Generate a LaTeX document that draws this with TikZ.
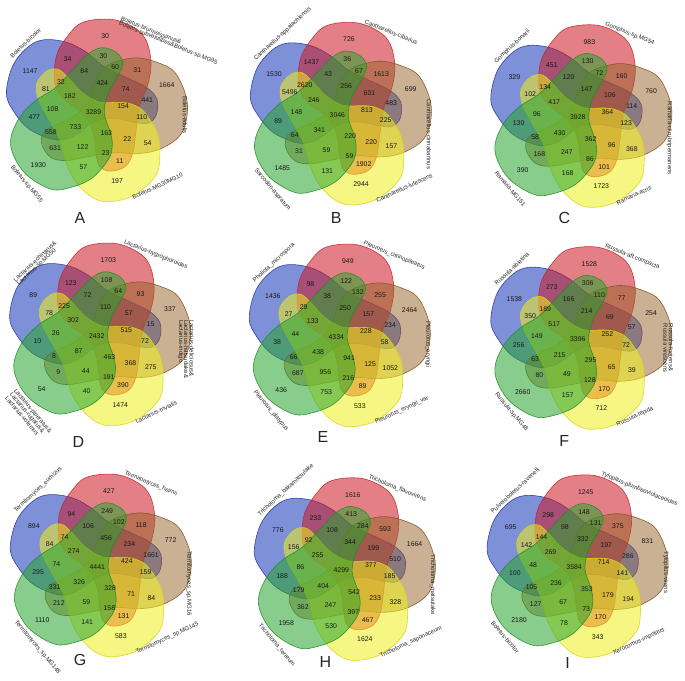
\documentclass[tikz,border=0pt]{standalone}
\usepackage{fontspec}
\setmainfont{Liberation Sans}
\usetikzlibrary{calc}
\definecolor{vblue}{RGB}{40,70,190}
\definecolor{vblueD}{RGB}{35,55,165}
\definecolor{vred}{RGB}{205,25,35}
\definecolor{vredD}{RGB}{200,35,45}
\definecolor{vbrown}{RGB}{150,100,40}
\definecolor{vbrownD}{RGB}{125,85,35}
\definecolor{vyellow}{RGB}{240,240,30}
\definecolor{vyellowD}{RGB}{215,215,20}
\definecolor{vgreen}{RGB}{40,165,45}
\definecolor{vgreenD}{RGB}{35,140,40}
\tikzset{
  num/.style={font=\fontsize{6.9}{8}\selectfont, text=black!90, inner sep=0pt},
  lab/.style={font=\fontsize{6}{6.5}\selectfont, text=black!85, inner sep=0pt},
  plet/.style={font=\fontsize{16}{18}\selectfont, text=black!85, inner sep=0pt},
}
\newcommand\vshape[4]{\filldraw[rotate=#1, fill=#2, draw=#3, fill opacity=#4, draw opacity=0.9, line width=0.6pt]
  plot[smooth cycle, tension=0.6] coordinates {(-25.9,-75.8) (-10.9,-88.8) (17.4,-91.5) (40,-83) (52,-70) (56.7,-47.5) (53.4,-25.8) (45.1,-4.2) (41.4,22.5) (38.4,42.5) (30.7,55.8) (15.7,60.2) (5.1,55.2) (1.7,42.5) (-0.9,22.5) (-9.3,4.2) (-25.9,-8.2) (-34.9,-17.5) (-39.9,-30.8) (-37.6,-55.8)};}
\newcommand\vshapes{%
  \vshape{72}{vblue}{vblueD}{0.6}
  \vshape{0}{vred}{vredD}{0.55}
  \vshape{-72}{vbrown}{vbrownD}{0.5}
  \vshape{-144}{vyellow}{vyellowD}{0.55}
  \vshape{144}{vgreen}{vgreenD}{0.55}}
\newcommand\poscoords{%
  \coordinate (p1) at (10.8,-74.7); \coordinate (p2) at (-26.7,-51.7);
  \coordinate (p3) at (9.1,-55.0); \coordinate (p4) at (20.8,-43.4);
  \coordinate (p5) at (43.0,-40.5); \coordinate (p6) at (-10.0,-39.7);
  \coordinate (p7) at (-33.4,-29.2); \coordinate (p8) at (8.0,-27.9);
  \coordinate (p9) at (-64.2,-39.7); \coordinate (p10) at (72.5,-25.4);
  \coordinate (p11) at (-48.4,-22.0); \coordinate (p12) at (31.3,-21.5);
  \coordinate (p13) at (-24.4,-14.5); \coordinate (p14) at (53.0,-10.9);
  \coordinate (p15) at (-0.8,0.8); \coordinate (p16) at (28.8,-4.5);
  \coordinate (p17) at (-41.7,-2.0); \coordinate (p18) at (-60.0,6.6);
  \coordinate (p19) at (47.5,6.1); \coordinate (p20) at (-18.9,16.3);
  \coordinate (p21) at (-43.4,20.8); \coordinate (p22) at (12.0,22.1);
  \coordinate (p23) at (33.0,28.3); \coordinate (p24) at (-39.2,37.1);
  \coordinate (p25) at (-11.7,35.8); \coordinate (p26) at (53.3,32.1);
  \coordinate (p27) at (11.3,42.1); \coordinate (p28) at (-55.9,53.8);
  \coordinate (p29) at (25.5,50.3); \coordinate (p30) at (-10.9,56.6);
  \coordinate (p31) at (22.8,70.0);}
\newcommand\vnums[2]{\poscoords
  \foreach \v [count=\i] in {#2} \node[num] (#1n\i) at (p\i) {\v};}
\newcommand\slabel[4]{\begin{scope}[shift={(#1,#2)}]
  \foreach \t [count=\k from 0] in {#4} \node[lab, anchor=west, rotate=#3] at ({5.5*\k*sin(#3)},{5.5*\k*cos(#3)}) {\t};
  \end{scope}}
% #1 blue, #2 red, #3 brown x offset, #4 brown, #5 yellow, #6 green
\newcommand\labels[6]{%
  \slabel{-83.3}{-54.3}{43}{#1}
  \slabel{26.7}{-92.7}{-22}{#2}
  \slabel{#3}{-15}{-90}{#4}
  \slabel{38.3}{86.7}{25}{#5}
  \slabel{-82.7}{55}{-50}{#6}}
\begin{document}
\begin{tikzpicture}[x=1pt, y=-1pt]
\useasboundingbox (0,0) rectangle (685,680);
\fill[white] (0,0) rectangle (685,680);

\begin{scope}[shift={(94.3,110.9)}]
  \vshapes
  \vnums{A}{30,34,30,60,31,84,32,424,1147,1664,81,74,182,441,3289,154,108,477,110,733,558,163,22,631,122,54,23,1930,11,57,197}
  \labels{Boletus-bicolor}{Boletus-brunneissimus\&,Boletus-subvelutipes\&Boletus-sp.MG95}{90.7}{Boletus-edulis}{Boletus-MG30MG10}{Boletus-sp.MG55}
\end{scope}
\node[plet] (LA) at (80,218.3) {A};

\begin{scope}[shift={(338.2,114.2)}]
  \vshapes
  \vnums{B}{726,1437,36,67,1613,43,2620,256,1530,699,5496,601,246,483,3046,813,148,89,225,341,64,220,220,31,59,157,59,1485,1902,131,2944}
  \labels{Cantharellus-appalachiensis}{Cantharellus-cibarius}{90.7}{Cantharellus-cinnabarinus}{Cantharellus-lutescens}{Sarcodon-aspratum}
\end{scope}
\node[plet] (LB) at (336.3,218.3) {B};

\begin{scope}[shift={(578.6,116.6)}]
  \vshapes
  \vnums{C}{983,451,130,72,160,120,134,147,329,760,102,106,417,114,3928,364,96,130,123,430,58,362,96,168,247,368,86,390,101,168,1723}
  \labels{Gomphus-bonarii}{Gomphus-sp.MG54}{90.7}{Ramaria-cf.rubripermanens}{Ramaria-acris}{Ramaria-MG151}
\end{scope}
\node[plet] (LC) at (564.3,218.3) {C};

\begin{scope}[shift={(97.5,334.9)}]
  \vshapes
  \vnums{D}{1703,123,108,64,93,72,225,110,89,337,78,57,302,15,2432,515,26,10,72,87,8,463,368,9,44,275,191,54,390,40,1474}
  \labels{Lactarius-echinatus\&,Lactarius-sp.MG50}{Lactarius-hygrophoroides}{94.2}{Lactarius-deliciosus\&,Lactarius-hatsudake\&,Lactarius-indigo}{Lactarius-trivialis}{Lactarius-piperatus\&,Lactarius-rugatus\&,Lactarius-volemus}
\end{scope}
\node[plet] (LD) at (78.3,441.7) {D};

\begin{scope}[shift={(337.1,335.9)}]
  \vshapes
  \vnums{E}{949,98,122,132,255,38,29,250,1436,2464,27,157,133,234,4334,228,44,38,58,438,66,941,125,687,956,1052,216,436,89,753,533}
  \labels{Pholiota\_microspora}{Pleurotus\_citrinopileatus}{90.7}{Pleurotus\_eryngii}{Pleurotus\_eryngii\_var}{Pleurotus\_platypus}
\end{scope}
\node[plet] (LE) at (323,436.7) {E};

\begin{scope}[shift={(578.6,338.5)}]
  \vshapes
  \vnums{F}{1528,273,306,110,77,166,189,214,1538,254,350,69,517,57,3396,252,149,256,72,215,63,295,65,80,49,39,128,2660,170,157,712}
  \labels{Russula-abietina}{Russula-aff.compacta}{92.4}{Russula-foetens\&,Russula virescens}{Russula-lepida}{Russula-sp.MG48}
\end{scope}
\node[plet] (LF) at (564.3,441) {F};

\begin{scope}[shift={(98.1,565.9)}]
  \vshapes
  \vnums{G}{427,94,249,102,118,106,74,456,894,772,84,234,274,1661,4441,424,74,295,159,326,331,328,71,212,59,84,158,1110,131,141,583}
  \labels{Termitomyces\_eurhizus}{Termitomyces\_heimii}{90.7}{Termitomyces\_sp.MG16}{Termitomyces\_sp.MG145}{Termitomyces\_sp.MG148}
\end{scope}
\node[plet] (LG) at (80,660) {G};

\begin{scope}[shift={(342.1,569.6)}]
  \vshapes
  \vnums{H}{1616,233,413,284,593,108,92,344,776,1664,156,199,255,510,4299,377,86,188,185,404,179,542,233,362,247,328,397,1958,467,530,1624}
  \labels{Tricholoma\_bakamatsutake}{Tricholoma\_flavovirens}{90.7}{Tricholoma\_matsutake}{Tricholoma\_saponaceum}{Tricholoma\_terreum}
\end{scope}
\node[plet] (LH) at (325.3,661.7) {H};

\begin{scope}[shift={(574.9,566.7)}]
  \vshapes
  \vnums{I}{1245,298,148,131,375,98,144,332,695,831,142,197,269,286,3584,714,48,100,141,236,105,353,179,127,67,194,73,2180,170,78,343}
  \labels{Pulveroboletus-ravenelii}{Tylopilus-plumbeoviolaceoides}{90.7}{Tylopilus-virens}{Xerocomus-impolitus}{Boletus-bicolor}
\end{scope}
\node[plet] (LI) at (567.7,663.3) {I};
\end{tikzpicture}
\end{document}
